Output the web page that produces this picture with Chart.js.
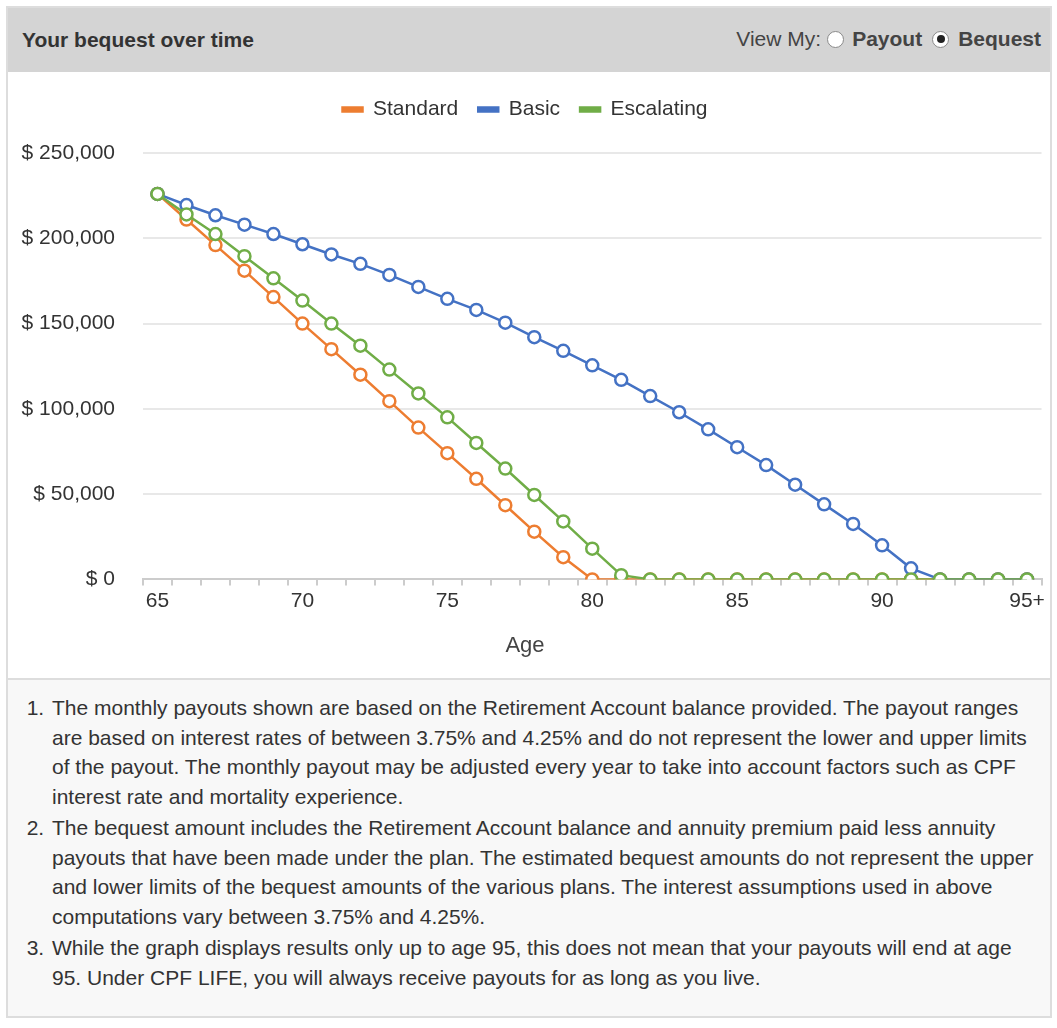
<!DOCTYPE html>
<html>
<head>
<meta charset="utf-8">
<script src="https://cdn.jsdelivr.net/npm/chart.js@4.4.1/dist/chart.umd.min.js"></script>
<style>
  body { margin: 0; background: #fff; font-family: "Liberation Sans", Arial, sans-serif; color: #333; }
  #panel { position: absolute; left: 6px; top: 6px; width: 1042px; border: 2px solid #dddddd; background: #fff; }
  #header { height: 64px; background: #d4d4d4; position: relative; }
  #title { position: absolute; left: 14px; top: 20px; font-size: 21px; font-weight: bold; color: #333; }
  #view { position: absolute; right: 9px; top: 19px; font-size: 21px; color: #444; display: flex; align-items: center; }
  #view b { color: #444; }
  .radio { display: inline-block; width: 17px; height: 17px; border: 1px solid #8a8a8a; border-radius: 50%; background: #fff; position: relative; box-sizing: border-box; }
  .radio.on::after { content: ""; position: absolute; left: 3.5px; top: 3.5px; width: 8px; height: 8px; border-radius: 50%; background: #222; }
  #r1 { margin: 0 8px 0 6px; }
  #r2 { margin: 0 9px 0 10px; }
  #chartBox { position: relative; height: 606px; }
  #notes { border-top: 2px solid #dddddd; background: #f8f8f8; height: 338px; box-sizing: border-box; padding-top: 13px; }
  #notes ol { margin: 0; padding-left: 42px; padding-right: 6px; font-size: 21px; line-height: 29.5px; color: #333; }
  #notes li { margin-bottom: 2px; padding-left: 2px; white-space: nowrap; }
</style>
</head>
<body>
<div id="panel">
  <div id="header">
    <div id="title">Your bequest over time</div>
    <div id="view"><span>View My:</span><span class="radio" id="r1"></span><b>Payout</b><span class="radio on" id="r2"></span><b>Bequest</b></div>
  </div>
  <div id="chartBox"><canvas id="myChart"></canvas></div>
  <div id="notes">
    <ol>
      <li>The monthly payouts shown are based on the Retirement Account balance provided. The payout ranges<br>are based on interest rates of between 3.75% and 4.25% and do not represent the lower and upper limits<br>of the payout. The monthly payout may be adjusted every year to take into account factors such as CPF<br>interest rate and mortality experience.</li>
      <li>The bequest amount includes the Retirement Account balance and annuity premium paid less annuity<br>payouts that have been made under the plan. The estimated bequest amounts do not represent the upper<br>and lower limits of the bequest amounts of the various plans. The interest assumptions used in above<br>computations vary between 3.75% and 4.25%.</li>
      <li>While the graph displays results only up to age 95, this does not mean that your payouts will end at age<br>95. Under CPF LIFE, you will always receive payouts for as long as you live.</li>
    </ol>
  </div>
</div>
<script>
// Ages 65 to 95+
const ages = ['65','66','67','68','69','70','71','72','73','74','75','76','77','78','79','80',
              '81','82','83','84','85','86','87','88','89','90','91','92','93','94','95+'];

// Bequest amounts ($)
const standard = [226000, 211000, 196000, 181000, 165500, 150000, 135000, 120000, 104500, 89000,
                  74000, 59000, 43500, 28000, 13000, 0, 0, 0, 0, 0, 0, 0, 0, 0, 0, 0, 0, 0, 0, 0, 0];
const basic = [226000, 219500, 213500, 208000, 202500, 196500, 190500, 185000, 178500, 171500,
               164500, 158000, 150500, 142000, 134000, 125500, 117000, 107500, 98000, 88000,
               77500, 67000, 55500, 44000, 32500, 20000, 6500, 0, 0, 0, 0];
const escalating = [226000, 214000, 202500, 189500, 176500, 163500, 150000, 137000, 123000, 109000,
                    95000, 80000, 65000, 49500, 34000, 18000, 2500, 0, 0, 0, 0, 0, 0, 0, 0, 0, 0, 0, 0, 0, 0];

const yTicks = [0, 50000, 100000, 150000, 200000, 250000];

function lineSet(label, values, color, order) {
    return {
        label: label,
        data: values,
        borderColor: color,
        backgroundColor: color,
        borderWidth: 2.5,
        pointRadius: 6,
        pointHoverRadius: 6,
        pointBorderWidth: 2.5,
        pointBackgroundColor: '#fff',
        pointBorderColor: color,
        tension: 0,
        order: order
    };
}

// make some room under the legend
const legendSpace = {
    id: 'legendSpace',
    beforeInit(chart) {
        const fit = chart.legend.fit;
        chart.legend.fit = function() {
            fit.bind(chart.legend)();
            this.height += 23;
        };
    }
};

const ctx = document.getElementById('myChart').getContext('2d');
const myChart = new Chart(ctx, {
    type: 'line',
    data: {
        labels: ages,
        datasets: [
            lineSet('Standard', standard, '#ed7d31', 3),
            lineSet('Basic', basic, '#4472c4', 2),
            lineSet('Escalating', escalating, '#70ad47', 1)
        ]
    },
    plugins: [legendSpace],
    options: {
        responsive: true,
        maintainAspectRatio: false,
        animation: false,
        layout: { padding: { top: 7, right: 8, bottom: 19, left: 0 } },
        plugins: {
            legend: {
                position: 'top',
                labels: {
                    boxWidth: 20,
                    boxHeight: 4,
                    padding: 20,
                    color: '#333',
                    font: { family: 'Liberation Sans', size: 21 },
                    sort: (a, b) => a.datasetIndex - b.datasetIndex
                }
            },
            // "Age" is centred on the whole canvas in the original, so use the title plugin
            title: {
                display: true,
                position: 'bottom',
                text: 'Age',
                color: '#444',
                font: { family: 'Liberation Sans', size: 22, weight: 'normal' },
                padding: { top: 16, bottom: 0 }
            },
            tooltip: { enabled: false }
        },
        scales: {
            x: {
                offset: true,
                grid: { offset: true, drawOnChartArea: false, drawTicks: true, tickLength: 6, color: '#cccccc', lineWidth: 2 },
                border: { color: '#cccccc', width: 2 },
                ticks: {
                    autoSkip: false,
                    maxRotation: 0,
                    padding: 3,
                    color: '#333',
                    font: { family: 'Liberation Sans', size: 21 },
                    callback: function(val, index) {
                        return index % 5 === 0 ? this.getLabelForValue(val) : '';
                    }
                }
            },
            y: {
                min: yTicks[0],
                max: yTicks[yTicks.length - 1],
                afterBuildTicks: function(axis) {
                    axis.ticks = yTicks.map(v => ({ value: v }));
                },
                afterFit: function(axis) {
                    axis.width = 135;
                },
                grid: { color: '#e8e8e8', lineWidth: 2, drawTicks: false },
                border: { display: false },
                ticks: {
                    padding: 28,
                    color: '#333',
                    font: { family: 'Liberation Sans', size: 21 },
                    callback: function(v) { return '$ ' + v.toLocaleString('en-US'); }
                }
            }
        }
    }
});
</script>
</body>
</html>
